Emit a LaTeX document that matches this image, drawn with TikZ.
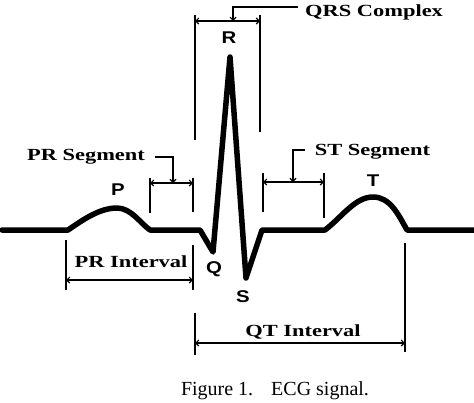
\documentclass[tikz,border=0pt]{standalone}
\usepackage{fontspec}
\setmainfont{Liberation Serif}
\newfontfamily\lblsans{Liberation Sans}
\usetikzlibrary{arrows.meta}
\tikzset{
  trace/.style={line width=5.5pt, line join=round, line cap=round},
  guide/.style={line width=1.2pt},
  dim/.style={line width=1.1pt, {Straight Barb[length=3pt,width=6pt]}-{Straight Barb[length=3pt,width=6pt]}},
  lead/.style={line width=1.1pt, -{Straight Barb[length=3pt,width=6pt]}},
  wave/.style={font=\lblsans\bfseries\fontsize{17}{17}\selectfont, inner sep=0pt},
  seg/.style={font=\bfseries\fontsize{17}{17}\selectfont, inner sep=0pt},
}
\newcommand{\wide}[1]{\scalebox{1.32}[1]{#1}}
\newcommand{\widel}[1]{\scalebox{1.2}[1]{#1}}
\begin{document}
\begin{tikzpicture}[x=1pt, y=-1pt]
\useasboundingbox (0,0) rectangle (474,402);
% ECG trace
\draw[trace] (2,230) -- (68,230)
  .. controls (84,219) and (100,208) .. (117,208)
  .. controls (131,208) and (140,223) .. (150,230)
  -- (200,230) -- (213,252) -- (230,57) -- (246,278) -- (262,230) -- (325,230)
  .. controls (342,217) and (355,197) .. (373,197)
  .. controls (390,197) and (398,214) .. (407,230)
  -- (476,230);
% wave labels
\node[wave] (R) at (229,38) {\widel{R}};
\node[wave] (P) at (118,190) {\widel{P}};
\node[wave] (T) at (373,181) {\widel{T}};
\node[wave] (Q) at (214,269) {\widel{Q}};
\node[wave] (S) at (243,297) {\widel{S}};
% QRS complex
\coordinate (qa) at (195,15); \coordinate (qb) at (195,140);
\coordinate (qc) at (260,15); \coordinate (qd) at (260,132);
\draw[guide] (qa) -- (qb);
\draw[guide] (qc) -- (qd);
\coordinate (qal) at (195,21); \coordinate (qcl) at (260,21);
\draw[dim] (qal) -- (qcl);
\node[seg, anchor=west] (qrs) at (305,12) {\wide{QRS Complex}};
\coordinate (qt1) at (298,7); \coordinate (qt2) at (233,21);
\draw[lead] (qt1) -| (qt2);
% PR segment
\coordinate (pa) at (150,178); \coordinate (pb) at (150,213);
\coordinate (pc) at (193,178); \coordinate (pd) at (193,212);
\draw[guide] (pa) -- (pb);
\draw[guide] (pc) -- (pd);
\coordinate (pal) at (150,183); \coordinate (pcl) at (193,183);
\draw[dim] (pal) -- (pcl);
\node[seg] (prs) at (86,157) {\wide{PR Segment}};
\coordinate (ps1) at (155,157); \coordinate (ps2) at (173,183);
\draw[lead] (ps1) -| (ps2);
% ST segment
\coordinate (sa) at (263,173); \coordinate (sb) at (263,212);
\coordinate (sc) at (324,173); \coordinate (sd) at (324,218);
\draw[guide] (sa) -- (sb);
\draw[guide] (sc) -- (sd);
\coordinate (sal) at (263,182); \coordinate (scl) at (324,182);
\draw[dim] (sal) -- (scl);
\node[seg] (sts) at (372.5,152) {\wide{ST Segment}};
\coordinate (ss1) at (305,150); \coordinate (ss2) at (293,182);
\draw[lead] (ss1) -| (ss2);
% PR interval
\coordinate (ia) at (66,240); \coordinate (ib) at (66,290);
\coordinate (ic) at (193,245); \coordinate (id) at (193,290);
\draw[guide] (ia) -- (ib);
\draw[guide] (ic) -- (id);
\coordinate (ial) at (66,280); \coordinate (icl) at (193,280);
\draw[dim] (ial) -- (icl);
\node[seg] (pri) at (131,262) {\wide{PR Interval}};
% QT interval
\coordinate (ta) at (195,313); \coordinate (tb) at (195,355);
\coordinate (tc) at (405,243); \coordinate (td) at (405,352);
\draw[guide] (ta) -- (tb);
\draw[guide] (tc) -- (td);
\coordinate (tal) at (195,343); \coordinate (tcl) at (405,343);
\draw[dim] (tal) -- (tcl);
\node[seg] (qti) at (303,332) {\wide{QT Interval}};
% caption
\node[font=\fontsize{20}{20}\selectfont, inner sep=0pt] (cap) at (275,391) {Figure 1.\hspace{0.9em}ECG signal.};
\end{tikzpicture}
\end{document}
